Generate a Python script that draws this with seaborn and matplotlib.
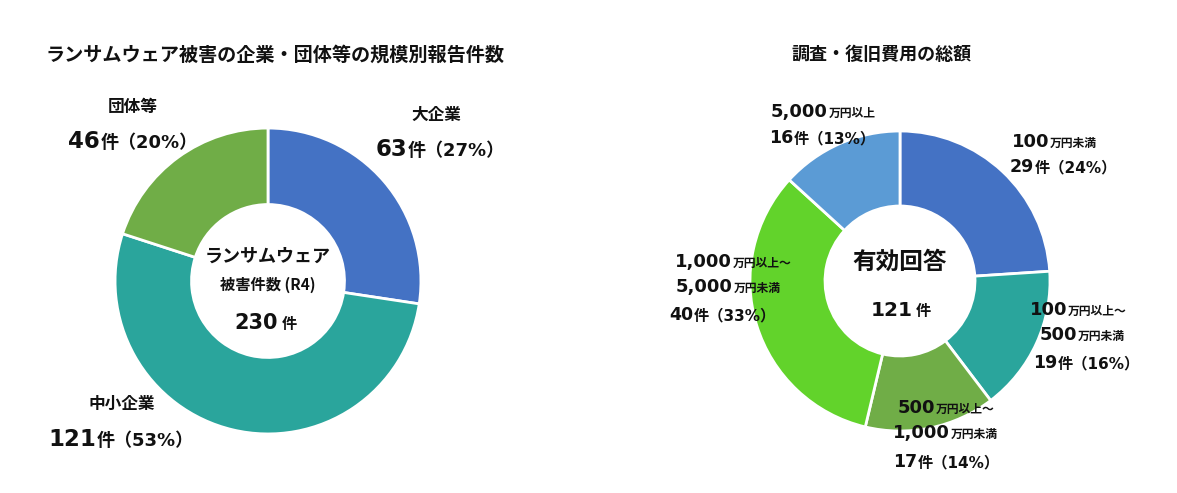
import matplotlib
matplotlib.use('Agg')
import matplotlib.pyplot as plt
import seaborn as sns

sns.set_theme(style='white')
plt.rcParams['font.family'] = ['DejaVu Sans', 'Noto Sans CJK JP']
plt.rcParams['font.weight'] = 'bold'

# ---- data ----
size_labels = ['大企業', '中小企業', '団体等']
size_counts = [63, 121, 46]
size_colors = ['#4472C4', '#2AA59C', '#70AD47']

cost_big = ['100', '100', '500', '1,000', '5,000']
cost_small = ['万円未満', '万円以上～', '万円以上～', '万円以上～', '万円以上']
cost_upper = [None, '500', '1,000', '5,000', None]
cost_counts = [29, 19, 17, 40, 16]
cost_colors = ['#4472C4', '#2AA59C', '#70AD47', '#62D32B', '#5B9BD5']

W, H = 1177, 493
fig = plt.figure(figsize=(W / 100, H / 100), dpi=100)


def put(x, y, s, size, ha='left', va='baseline', fam=None):
    kw = {} if fam is None else {'family': fam}
    fig.text(x / W, 1 - y / H, s, fontsize=size, ha=ha, va=va,
             fontweight='bold', color='#111111', **kw)


def pair(split, base, big, small, bs, ss, gap=1):
    put(split, base, big, bs, ha='right')
    put(split + gap, base, small, ss, ha='left')


def donut(cx, cy, r, counts, colors):
    ax = fig.add_axes([(cx - r) / W, 1 - (cy + r) / H, 2 * r / W, 2 * r / H])
    ax.pie(counts, colors=colors, startangle=90, counterclock=False,
           wedgeprops=dict(width=0.5, edgecolor='white', linewidth=2))
    ax.set_xlim(-1.02, 1.02)
    ax.set_ylim(-1.02, 1.02)
    ax.axis('off')
    return ax


jp = ['Noto Sans CJK JP', 'DejaVu Sans']

# ---- left chart ----
donut(268, 281, 156, size_counts, size_colors)
put(275, 55, 'ランサムウェア被害の企業・団体等の規模別報告件数', 13.8, ha='center', va='center', fam=jp)
tot = sum(size_counts)
pct = [round(c / tot * 100) for c in size_counts]

put(436, 115, size_labels[0], 12, ha='center', va='center', fam=jp)
pair(407, 156, str(size_counts[0]), f'件（{pct[0]}%）', 16.5, 13)
put(122, 404, size_labels[1], 12, ha='center', va='center', fam=jp)
pair(96, 446, str(size_counts[1]), f'件（{pct[1]}%）', 16.5, 13)
put(133, 107, size_labels[2], 12, ha='center', va='center', fam=jp)
pair(100, 148, str(size_counts[2]), f'件（{pct[2]}%）', 16.5, 13)

put(268, 256, 'ランサムウェア', 13, ha='center', va='center', fam=jp)
put(268, 285, '被害件数 (R4)', 11, ha='center', va='center', fam=jp)
pair(278, 329, str(tot), '件', 15, 11, gap=4)

# ---- right chart ----
donut(900, 281, 153, cost_counts, cost_colors)
put(882, 55, '調査・復旧費用の総額', 13, ha='center', va='center', fam=jp)
ctot = sum(cost_counts)
cpct = [round(c / ctot * 100) for c in cost_counts]

# split x and baselines per slice: (label1, label2, count line)
spots = [
    (1049, 147, None, None, 1034, 172),
    (1067, 315, 1077, 340, 1057, 368),
    (935, 413, 950, 438, 917, 467),
    (732, 267, 733, 292, 693, 320),
    (828, 117, None, None, 793, 143),
]
for i, (sx1, b1, sx2, b2, sx3, b3) in enumerate(spots):
    pair(sx1, b1, cost_big[i], cost_small[i], 13, 8.5)
    if cost_upper[i] is not None:
        pair(sx2, b2, cost_upper[i], '万円未満', 13, 8.5)
    pair(sx3, b3, str(cost_counts[i]), f'件（{cpct[i]}%）', 12.5, 11)

put(900, 262, '有効回答', 17, ha='center', va='center', fam=jp)
pair(913, 316, str(ctot), '件', 14.5, 11, gap=3)

fig.savefig('out.png', dpi=100, facecolor='white')
